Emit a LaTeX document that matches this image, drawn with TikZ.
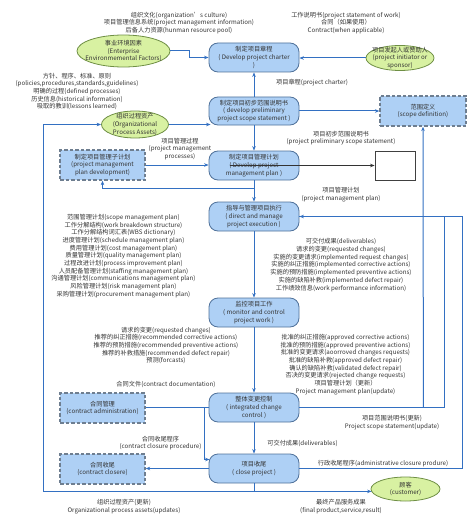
\documentclass[tikz,border=0pt]{standalone}
\usepackage{fontspec}
\setmainfont{Noto Sans CJK SC}
\usetikzlibrary{shapes.geometric,arrows.meta,calc}
\definecolor{boxfill}{HTML}{AED0F5}
\definecolor{boxborder}{HTML}{4F719A}
\definecolor{dashborder}{HTML}{6E7E90}
\definecolor{ellfill}{HTML}{D8F1A2}
\definecolor{ellborder}{HTML}{6F8F45}
\definecolor{linecol}{HTML}{3370C2}
\definecolor{txt}{HTML}{333333}
\newcommand{\fsz}{\fontsize{6.2pt}{7.7pt}\selectfont}
\tikzset{
  every node/.style={font=\fsz, text=txt},
  proc/.style={draw=boxborder, fill=boxfill, rounded corners=9pt, minimum width=90pt, minimum height=29pt, align=center, inner sep=0pt, line width=0.8pt},
  dbox/.style={draw=dashborder, fill=boxfill, dash pattern=on 3.5pt off 2pt, minimum width=85pt, minimum height=30pt, align=center, inner sep=0pt, line width=1.3pt},
  ell/.style={ellipse, draw=ellborder, fill=ellfill, inner sep=0pt, line width=0.8pt},
  etext/.style={align=center, font=\fsz, text=txt},
  lbl/.style={align=center},
  lineb/.style={draw=linecol, line width=1pt},
  conn/.style={lineb, -{Stealth[length=4.5pt,width=3.5pt]}},
  darkconn/.style={draw=black!80, line width=0.9pt, -{Stealth[length=4.5pt,width=3.5pt]}}
}
\begin{document}
\begin{tikzpicture}[x=1pt,y=-1pt]
\useasboundingbox (0,0) rectangle (474,524);
% process boxes
\node[proc] (charter) at (254,57.5) {制定项目章程\\( Develop project charter\\)};
\node[proc, minimum height=28pt] (prelim) at (254,111) {制定项目初步范围说明书\\( develop preliminary\\project scope statement )};
\node[proc] (plan) at (254,165.5) {制定项目管理计划\\( Develop project\\management plan )};
\node[proc] (direct) at (254,216.5) {指导与管理项目执行\\( direct and manage\\project execution )};
\node[proc] (monitor) at (254,312.5) {监控项目工作\\( monitor and control\\project work )};
\node[proc] (icc) at (254,407.5) {整体变更控制\\( integrated change\\control )};
\node[proc] (close) at (254,468.5) {项目收尾\\( close project )};
% dashed boxes
\node[dbox] (subplan) at (102.5,165) {制定项目管理子计划\\(project management\\plan development)};
\node[dbox, minimum width=86pt] (scopedef) at (423,111) {范围定义\\(scope definition)};
\node[dbox] (cadmin) at (102.5,408) {合同管理\\(contract administration)};
\node[dbox] (cclose) at (102.5,469) {合同收尾\\(contract closere)};
% white box
\node[draw=black!75, fill=white, line width=0.8pt, minimum width=40pt, minimum height=29pt, inner sep=0pt] (white) at (395,165.5) {};
% ellipses
\node[ell, minimum width=93pt, minimum height=32pt, label={[etext]center:事业环境因素\\(Enterprise\\Environmemental Factors)}] (eef) at (123.5,51) {};
\node[ell, minimum width=67pt, minimum height=27pt, label={[etext]center:组织过程资产\\(Organizational\\Process Assets)}] (opa) at (135,124.5) {};
\node[ell, minimum width=68pt, minimum height=25pt, label={[etext]center:项目发起人或赞助人\\(project initiator or\\sponsor)}] (sponsor) at (400,58) {};
\node[ell, minimum width=69pt, minimum height=24pt, label={[etext]center:顾客\\(customer)}] (customer) at (405.5,489) {};
% labels
\node[lbl] (l1) at (179,23) {组织文化(organization\char39 s culture)\\项目管理信息系统(project management information)\\后备人力资源(hunman resource pool)};
\node[lbl] (l2) at (346,23) {工作说明书(project statement of work)\\合同（如果使用）\\Contract(when applicable)};
\node[lbl] (l3) at (77,91.5) {方针、程序、标准、原则\\(policies,procedures,standards,guidelines)\\明确的过程(defined processes)\\历史信息(historical information)\\吸取的教训(lessons learned)};
\node[lbl] (l4) at (312,83) {项目章程(project charter)};
\node[lbl] (l5) at (180,149) {项目管理过程\\(project management\\processes)};
\node[lbl] (l6) at (341,138) {项目初步范围说明书\\(project preliminary scope statement)};
\node[lbl] (l7) at (341,195) {项目管理计划\\(project management plan)};
\node[lbl] (l8) at (123.5,256) {范围管理计划(scope management plan)\\工作分解结构(work breakdown structure)\\工作分解结构词汇表(WBS dictionary)\\进度管理计划(schedule management plan)\\费用管理计划(cost management plan)\\质量管理计划(quality management plan)\\过程改进计划(process improvement plan)\\人员配备管理计划(staffing management plan)\\沟通管理计划(communications management plan)\\风险管理计划(risk management plan)\\采购管理计划(procurement management plan)};
\node[lbl] (l9) at (341,265) {可交付成果(deliverables)\\请求的变更(requested changes)\\实施的变更请求(implemented request changes)\\实施的纠正措施(implemented corrective actions)\\实施的预防措施(implemented preventive actions)\\实施的缺陷补救(implemented defect repair)\\工作绩效信息(work performance information)};
\node[lbl] (l10) at (166,345.5) {请求的变更(requested changes)\\推荐的纠正措施(recommended corrective actions)\\推荐的预防措施(recommended preventive actions)\\推荐的补救措施(recommended defect repair)\\预测(forcasts)};
\node[lbl] (l11) at (166,384) {合同文件(contract documentation)};
\node[lbl] (l12) at (345.5,364.5) {批准的纠正措施(approved corrective actions)\\批准的预防措施(approved preventive actions)\\批准的变更请求(aoorroved changes requests)\\批准的缺陷补救(approved defect repair)\\确认的缺陷补救(validated defect repair)\\否决的变更请求(rejected change requests)\\项目管理计划（更新）\\Project management plan(update)};
\node[lbl] (l13) at (392,422.5) {项目范围说明书(更新)\\Project scope statement(update)};
\node[lbl] (l14) at (302.5,443) {可交付成果(deliverables)};
\node[lbl] (l15) at (160.5,443) {合同收尾程序\\(contract closure procedure)};
\node[lbl] (l16) at (383,464) {行政收尾程序(administrative closure produre)};
\node[lbl] (l17) at (124,506.5) {组织过程资产(更新)\\Organizational process assets(updates)};
\node[lbl] (l18) at (341,506.5) {最终产品服务成果\\(final product,service,result)};
% connectors
\draw[conn] (eef.east) -- ++(19,0) |- (charter.west);
\draw[conn] (sponsor.west) -- (charter.east |- sponsor.west);
\draw[conn] (prelim.north) -- (charter.south);
\draw[conn] (prelim.south) -- (plan.north);
\draw[conn] (opa.east) -- ($(prelim.west |- opa.east)+(2,0)$);
\draw[conn] (prelim.east) -- (scopedef.west);
\draw[conn] (subplan.east) -- (plan.west |- subplan.east);
\draw[conn] (plan.south) -- (direct.north);
\draw[conn] ($(plan.south)+(0,8)$) -| (subplan.south);
\draw[conn] (direct.south) -- (monitor.north);
\draw[conn] (monitor.south) -- (icc.north);
\draw[conn] (icc.south) -- (close.north);
\draw[conn] (close.west) -- (cclose.east |- close.west);
\coordinate (cj) at ($(icc.west)+(-4,0)$);
\draw[lineb] (cadmin.east |- cj) -- (icc.west);
\draw[conn] (cj) |- ($(close.west)+(1,-9)$);
\coordinate (bj) at ($(close.south)+(0,8)$);
\draw[lineb] (close.south) -- (bj);
\draw[conn] (bj) -- ($(customer.west |- bj)+(1,0)$);
\draw[conn] (bj) -- ++(-211,0) |- (opa.west);
\draw[conn] (close.east) -- ++(163,0) |- (direct.east);
\draw[lineb] (icc.east) -- ++(145,0) |- (direct.east);
\draw[conn] ($(icc.east)+(124,0)$) -- (scopedef.south);
\draw[darkconn] ($(plan.center)+(-24,0)$) -- (white.west);
\end{tikzpicture}
\end{document}
